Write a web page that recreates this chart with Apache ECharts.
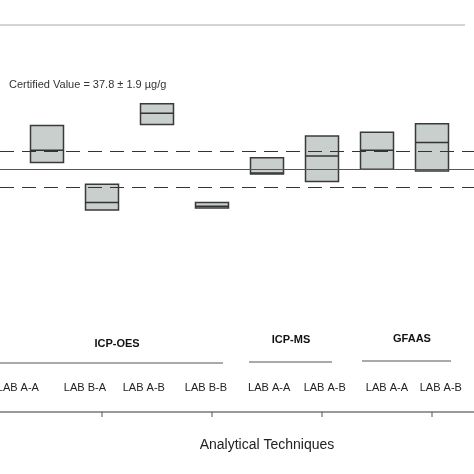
<!DOCTYPE html>
<html>
<head>
<meta charset="utf-8">
<script src="https://cdn.jsdelivr.net/npm/echarts@6/dist/echarts.min.js"></script>
<style>html,body{margin:0;padding:0;background:#fff}#c{width:474px;height:474px}</style>
</head>
<body>
<div id="c"></div>
<script>
// box positions (1..8) and values in ug/g
var boxPos = [1, 2, 3, 4, 5, 6, 7, 8];
var boxLow = [38.5, 33.5, 42.5, 33.7, 37.3, 36.5, 37.8, 37.6];
var boxMed = [39.8, 34.3, 43.7, 33.9, 37.4, 39.2, 39.8, 40.6];
var boxHigh = [42.4, 36.2, 44.7, 34.3, 39.0, 41.3, 41.7, 42.6];
var labNames = ['LAB A-A', 'LAB B-A', 'LAB A-B', 'LAB B-B', 'LAB A-A', 'LAB A-B', 'LAB A-A', 'LAB A-B'];
var labPos = [0.47, 1.69, 2.76, 3.89, 5.04, 6.05, 7.18, 8.16];
var tickPos = [2, 4, 6, 8];
var certified = 37.8, certU = 1.9;

var chart = echarts.init(document.getElementById('c'));
var boxData = boxPos.map(function (p, i) { return [p, boxLow[i], boxMed[i], boxHigh[i]]; });

chart.setOption({
    animation: false,
    grid: {left: 0, right: 0, top: 25, bottom: 62},
    xAxis: {
        type: 'value', min: 1 - 47 / 55, max: 1 + 427 / 55,
        splitLine: {show: false}, axisTick: {show: false}, axisLabel: {show: false},
        axisLine: {lineStyle: {color: '#777', width: 1.5}}
    },
    yAxis: {type: 'value', min: 12.2, max: 53, show: false},
    series: [{
        type: 'custom',
        data: boxData,
        renderItem: function (params, api) {
            var lo = api.coord([api.value(0), api.value(1)]);
            var hi = api.coord([api.value(0), api.value(3)]);
            var md = api.coord([api.value(0), api.value(2)]);
            var w = 33;
            return {type: 'group', children: [
                {type: 'rect', shape: {x: lo[0] - w / 2, y: hi[1], width: w, height: lo[1] - hi[1]},
                    style: {fill: '#c9cfcc', stroke: '#3a3a3a', lineWidth: 1.5}},
                {type: 'line', shape: {x1: md[0] - w / 2, y1: md[1], x2: md[0] + w / 2, y2: md[1]},
                    style: {stroke: '#333', lineWidth: 1.5}}
            ]};
        },
        markLine: {
            silent: true, symbol: 'none', label: {show: false},
            data: [
                {yAxis: certified, lineStyle: {type: 'solid', color: '#555', width: 1}},
                {yAxis: certified + certU, lineStyle: {type: [14, 8], color: '#333', width: 1.2}},
                {yAxis: certified - certU, lineStyle: {type: [14, 8], color: '#333', width: 1.2}}
            ]
        }
    }, {
        type: 'custom',
        data: tickPos.map(function (p) { return [p, 12.2]; }),
        renderItem: function (params, api) {
            var c = api.coord([api.value(0), api.value(1)]);
            return {type: 'line', shape: {x1: c[0], y1: c[1], x2: c[0], y2: c[1] + 5},
                style: {stroke: '#555', lineWidth: 1}};
        }
    }, {
        type: 'custom',
        data: labPos.map(function (p, i) { return [p, 12.2, labNames[i]]; }),
        renderItem: function (params, api) {
            var c = api.coord([api.value(0), api.value(1)]);
            return {type: 'text', x: c[0], y: c[1] - 24,
                style: {text: labNames[params.dataIndex], fill: '#222', font: '11px Arial, "Liberation Sans"',
                    textAlign: 'center', textVerticalAlign: 'middle'}};
        }
    }],
    graphic: [
        {type: 'line', shape: {x1: 0, y1: 25, x2: 465, y2: 25}, style: {stroke: '#aaa', lineWidth: 1}},
        {type: 'text', left: 9, top: 79, style: {text: 'Certified Value = 37.8 \u00b1 1.9 \u00b5g/g', fill: '#333', font: '11px Arial, "Liberation Sans"'}},
        {type: 'text', x: 117, y: 344, style: {text: 'ICP-OES', fill: '#111', font: 'bold 11px Arial, "Liberation Sans"', textAlign: 'center', textVerticalAlign: 'middle'}},
        {type: 'text', x: 291, y: 340, style: {text: 'ICP-MS', fill: '#111', font: 'bold 11px Arial, "Liberation Sans"', textAlign: 'center', textVerticalAlign: 'middle'}},
        {type: 'text', x: 412, y: 339, style: {text: 'GFAAS', fill: '#111', font: 'bold 11px Arial, "Liberation Sans"', textAlign: 'center', textVerticalAlign: 'middle'}},
        {type: 'line', shape: {x1: 0, y1: 363, x2: 223, y2: 363}, style: {stroke: '#555', lineWidth: 1}},
        {type: 'line', shape: {x1: 249, y1: 362, x2: 332, y2: 362}, style: {stroke: '#555', lineWidth: 1}},
        {type: 'line', shape: {x1: 362, y1: 361, x2: 451, y2: 361}, style: {stroke: '#555', lineWidth: 1}},
        {type: 'text', x: 267, y: 445, style: {text: 'Analytical Techniques', fill: '#222', font: '14px Arial, "Liberation Sans"', textAlign: 'center', textVerticalAlign: 'middle'}}
    ]
});
</script>
</body>
</html>
